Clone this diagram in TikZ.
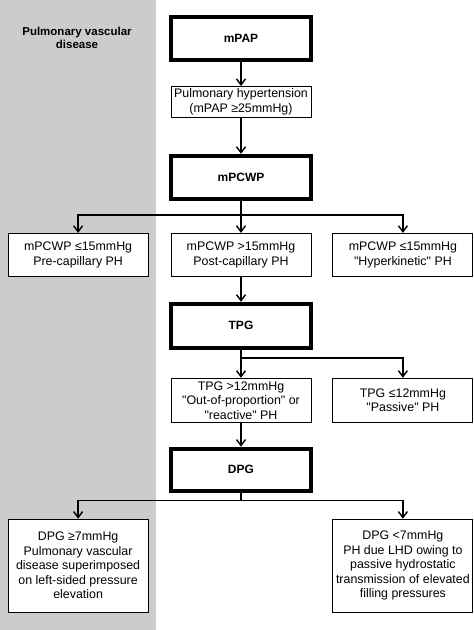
\documentclass[tikz,border=0pt]{standalone}
\usepackage{fontspec}
\setmainfont{Liberation Sans}[Ligatures=TeXOff]
\usetikzlibrary{arrows.meta,positioning}
\definecolor{pvdGrey}{RGB}{204,204,204}

\begin{document}
\begin{tikzpicture}[
  font=\fontsize{12.4}{14.5}\selectfont,
  box/.style={
    draw,
    fill=white,
    line width=0.9pt,
    minimum width=140pt,
    minimum height=31pt,
    inner sep=2pt,
    align=center
  },
  keybox/.style={
    box,
    line width=4pt,
    minimum height=43pt,
    font=\fontsize{12}{14.5}\selectfont\bfseries
  },
  arrow/.style={-{Straight Barb[length=6pt,width=9pt]},line width=1.4pt}
]
  \useasboundingbox (0,0) rectangle (474pt,-630pt);
  \fill[pvdGrey] (0,0) rectangle (156pt,-630pt);
  \node[align=center,font=\fontsize{11.5}{13.5}\selectfont\bfseries] (pvd)
    at (77pt,-38pt) {Pulmonary vascular\\disease};

  % main column
  \node[keybox] (mpap) at (241pt,-38.5pt) {mPAP};
  \node[box,below=24pt of mpap] (ph)
    {Pulmonary hypertension\\(mPAP ≥25mmHg)};
  \node[keybox,below=36pt of ph] (mpcwp) {mPCWP};
  \node[box,minimum height=43pt,below=32pt of mpcwp] (post)
    {mPCWP >15mmHg\\Post-capillary PH};
  \node[box,minimum height=43pt,left=22pt of post] (pre)
    {mPCWP ≤15mmHg\\Pre-capillary PH};
  \node[box,minimum height=43pt,right=21pt of post] (hyper)
    {mPCWP ≤15mmHg\\"Hyperkinetic" PH};
  \node[keybox,minimum height=44pt,below=25pt of post] (tpg) {TPG};
  \node[box,minimum height=44pt,below=28pt of tpg] (tpghigh)
    {TPG >12mmHg\\"Out-of-proportion" or\\"reactive" PH};
  \node[box,minimum height=44pt,right=21pt of tpghigh] (tpglow)
    {TPG ≤12mmHg\\"Passive" PH};
  \node[keybox,minimum height=42pt,below=24pt of tpghigh] (dpg) {DPG};
  \node[box,minimum height=93pt,anchor=north,yshift=-26pt] (dpghigh)
    at (pre|-dpg.south)
    {DPG ≥7mmHg\\Pulmonary vascular\\disease superimposed\\on left-sided pressure\\elevation};
  \node[box,minimum height=93pt,anchor=north,yshift=-26pt] (dpglow)
    at (hyper|-dpg.south)
    {DPG <7mmHg\\PH due LHD owing to\\passive hydrostatic\\transmission of elevated\\filling pressures};

  % connectors
  \coordinate[below=14pt of mpcwp] (split1);
  \coordinate[below=8pt of tpg] (split2);
  \coordinate[below=8pt of dpg] (split3);

  \draw[arrow] (mpap) -- (ph);
  \draw[arrow] (ph) -- (mpcwp);
  \draw[arrow] (mpcwp) -- (post);
  \draw[arrow] (split1) -| (pre);
  \draw[arrow] (split1) -| (hyper);
  \draw[arrow] (post) -- (tpg);
  \draw[arrow] (tpg) -- (tpghigh);
  \draw[arrow] (split2) -| (tpglow);
  \draw[arrow] (tpghigh) -- (dpg);
  \draw[line width=1.4pt] (dpg) -- (split3);
  \draw[arrow] (split3) -| (dpghigh);
  \draw[arrow] (split3) -| (dpglow);
\end{tikzpicture}
\end{document}
